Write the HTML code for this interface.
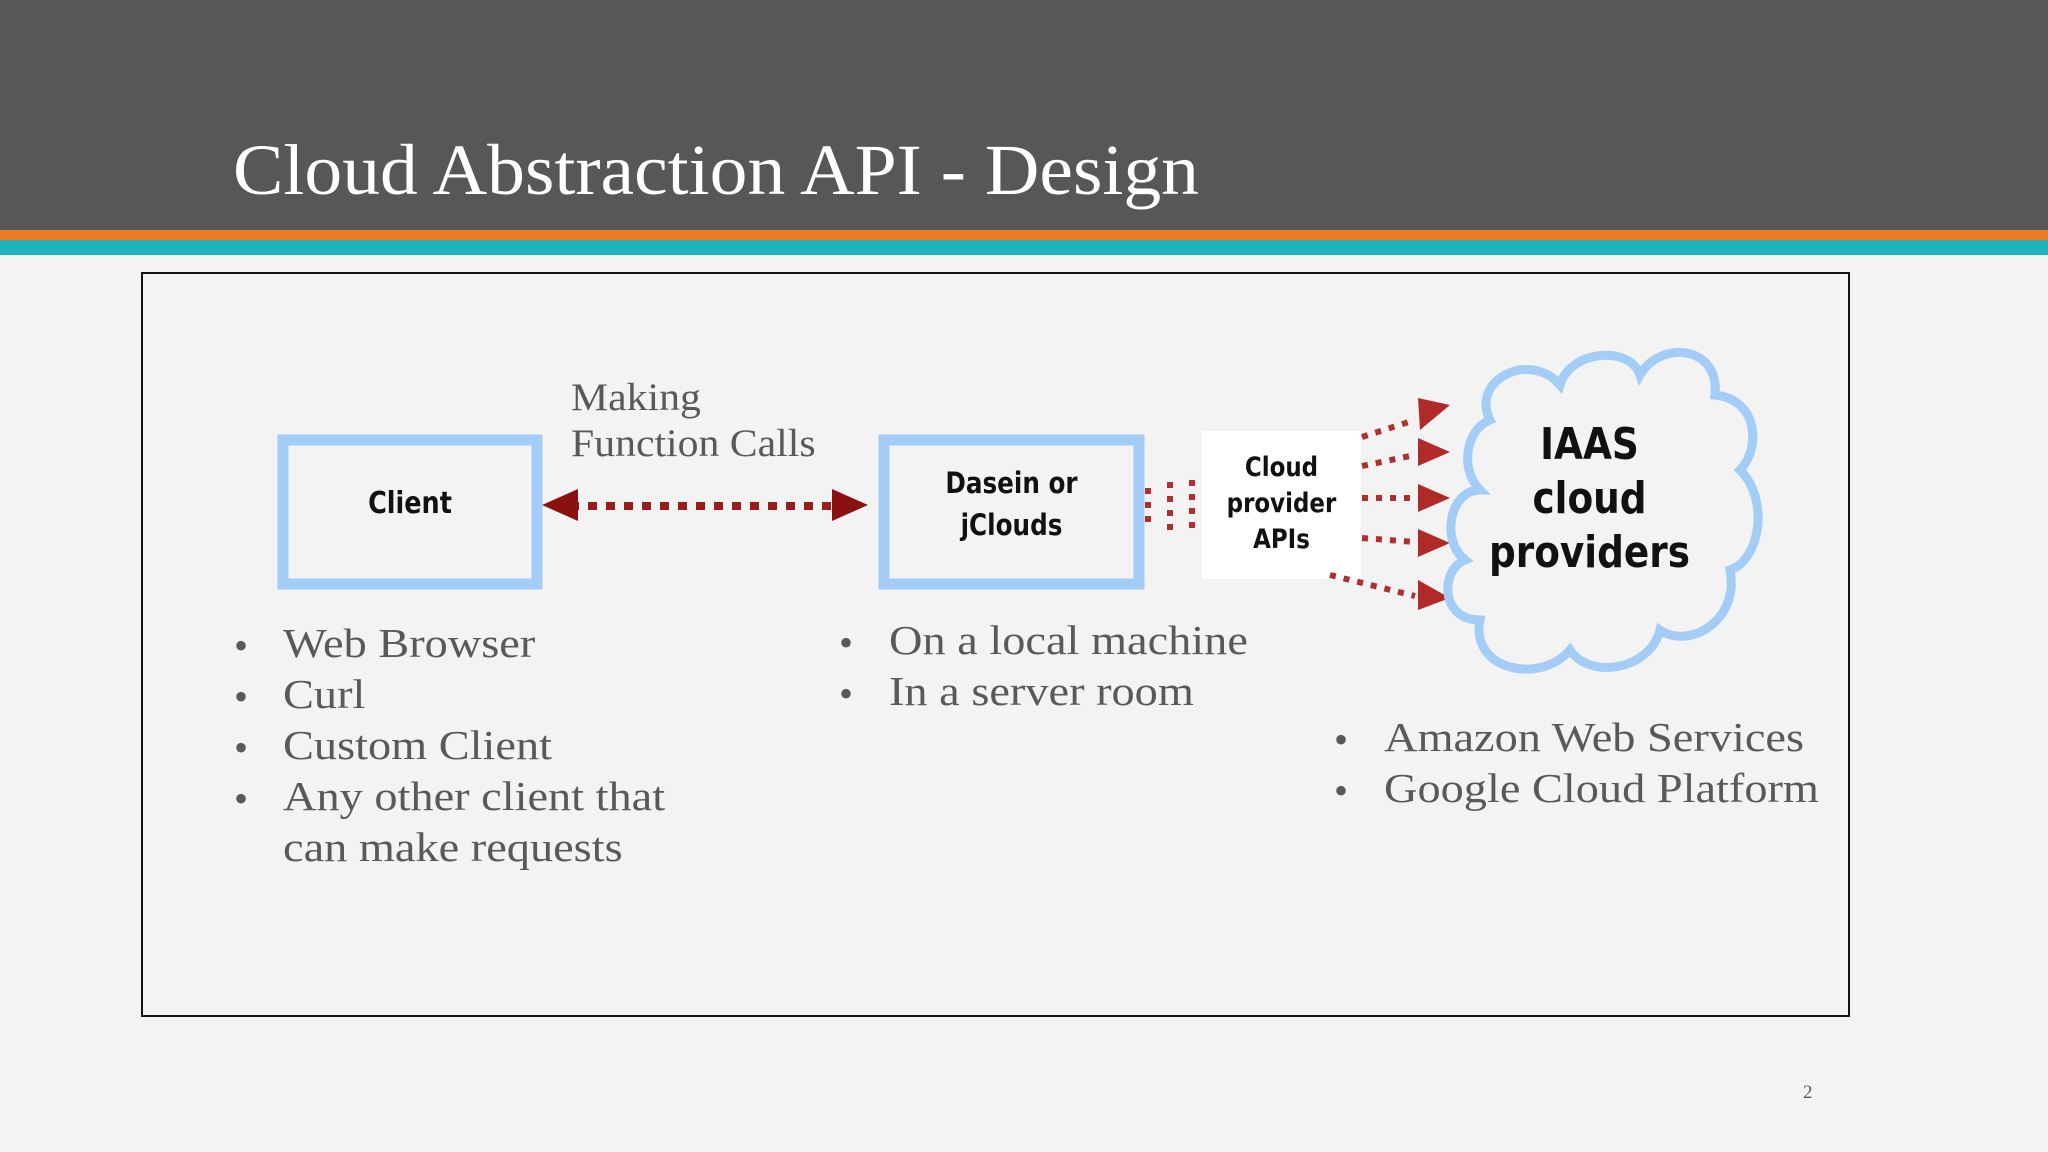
<!DOCTYPE html>
<html><head><meta charset="utf-8"><style>
body{margin:0;width:2048px;height:1152px;background:#f3f3f3;position:relative;overflow:hidden;font-family:"Liberation Serif",serif;color:#595959}
.hd{position:absolute;left:0;top:0;width:2048px;height:230px;background:#575757}
.or{position:absolute;left:0;top:230px;width:2048px;height:10px;background:#ea7b23}
.tl{position:absolute;left:0;top:240px;width:2048px;height:15px;background:#1fb3c0}
.t{position:absolute;left:233px;top:134px;font-size:72px;color:#fff;line-height:1;white-space:nowrap;transform:scaleX(1.05);transform-origin:left}
.frame{position:absolute;left:141px;top:272px;width:1705px;height:741px;border:2px solid #111}
.txt{position:absolute;font-size:41px;line-height:51px;white-space:nowrap;transform:scaleX(1.13);transform-origin:left}
.b{position:absolute;font-size:40px}
.lbl{position:absolute;font-family:"DejaVu Sans",sans-serif;font-weight:bold;color:#111;text-align:center;transform:scaleX(0.85)}
</style></head><body>
<div class="hd"></div><div class="or"></div><div class="tl"></div>
<div class="t">Cloud Abstraction API - Design</div>
<div class="frame"></div>
<svg width="2048" height="1152" style="position:absolute;left:0;top:0">
<rect x="283" y="440" width="254" height="144" fill="none" stroke="#a3cdf7" stroke-width="11"/>
<rect x="884" y="440" width="255" height="144" fill="none" stroke="#a3cdf7" stroke-width="11"/>
<rect x="1202" y="431" width="159" height="148" fill="#fff"/>
<line x1="570" y1="506" x2="840" y2="506" stroke="#9b1c1c" stroke-width="8" stroke-dasharray="9,9"/>
<polygon points="542,505 578,489 578,521" fill="#8b1010"/>
<polygon points="868,505 832,489 832,521" fill="#8b1010"/>
<g stroke="#b03030" stroke-width="6" stroke-dasharray="6,8">
<line x1="1148" y1="488" x2="1148" y2="525"/>
<line x1="1170" y1="482" x2="1170" y2="530"/>
<line x1="1192" y1="480" x2="1192" y2="534"/>
<line x1="1362" y1="437" x2="1415" y2="420"/>
<line x1="1362" y1="466" x2="1415" y2="455"/>
<line x1="1362" y1="498" x2="1415" y2="498"/>
<line x1="1362" y1="538" x2="1415" y2="542"/>
<line x1="1330" y1="575" x2="1415" y2="596"/>
</g>
<g fill="#b02a2a">
<polygon points="1450,405 1418,398 1420,430"/>
<polygon points="1450,452 1418,438 1418,466"/>
<polygon points="1450,498 1418,484 1418,512"/>
<polygon points="1450,543 1418,529 1418,557"/>
<polygon points="1450,598 1418,580 1418,610"/>
</g>
<path d="M1490,420 C1470,380 1530,350 1560,385 C1570,350 1630,345 1640,375 C1660,340 1720,345 1715,395 C1760,400 1760,450 1740,470 C1770,500 1760,560 1730,570 C1740,620 1690,650 1660,630 C1650,670 1590,680 1570,650 C1540,685 1470,670 1480,620 C1440,620 1440,570 1465,560 C1440,540 1450,490 1480,490 C1460,470 1465,430 1490,420 Z" fill="#f3f3f3" stroke="#a3cdf7" stroke-width="9"/>
</svg>
<div class="lbl" style="left:283px;top:486px;width:254px;font-size:30px">Client</div>
<div class="lbl" style="left:884px;top:462px;width:255px;font-size:29px;line-height:42px">Dasein or<br>jClouds</div>
<div class="lbl" style="left:1202px;top:450px;width:159px;font-size:27px;line-height:36px">Cloud<br>provider<br>APIs</div>
<div class="lbl" style="left:1452px;top:418px;width:275px;font-size:44px;line-height:54px">IAAS<br>cloud<br>providers</div>
<div class="txt" style="left:571px;top:375px;font-size:39px;line-height:46px;transform:scaleX(1.07)">Making<br>Function Calls</div>
<div class="txt" style="left:283px;top:618px">Web Browser<br>Curl<br>Custom Client<br>Any other client that<br>can make requests</div>
<div class="b" style="left:234px;top:622px">•</div><div class="b" style="left:234px;top:673px">•</div><div class="b" style="left:234px;top:724px">•</div><div class="b" style="left:234px;top:775px">•</div>
<div class="txt" style="left:889px;top:615px">On a local machine<br>In a server room</div>
<div class="b" style="left:839px;top:619px">•</div><div class="b" style="left:839px;top:670px">•</div>
<div class="txt" style="left:1384px;top:712px">Amazon Web Services<br>Google Cloud Platform</div>
<div class="b" style="left:1334px;top:716px">•</div><div class="b" style="left:1334px;top:767px">•</div>
<div style="position:absolute;left:1803px;top:1082px;font-size:19px">2</div>
</body></html>
